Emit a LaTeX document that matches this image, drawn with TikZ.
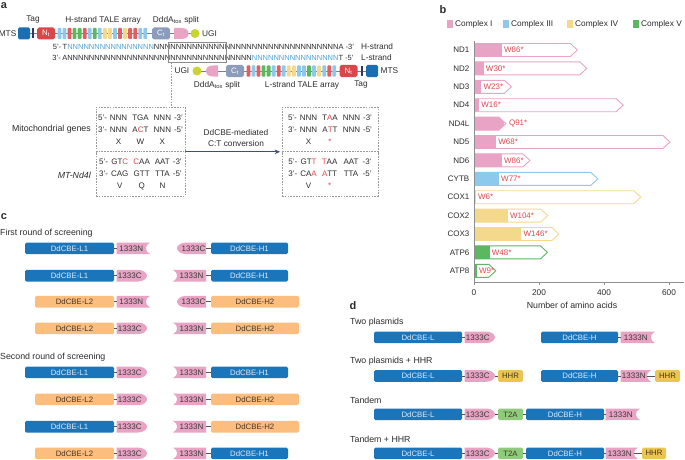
\documentclass[tikz,border=0pt]{standalone}
\usepackage{fontspec}
\setmainfont{Liberation Sans}
\usetikzlibrary{arrows.meta,fit}
\definecolor{txt}{HTML}{2B2B2B}
\definecolor{dblue}{HTML}{1B75BB}
\definecolor{mtsblue}{HTML}{1A6FB2}
\definecolor{orng}{HTML}{FBBE7F}
\definecolor{pinkP}{HTML}{E9A3C4}
\definecolor{lbl}{HTML}{8DC9EC}
\definecolor{rdd}{HTML}{E25E60}
\definecolor{grn}{HTML}{5CB85E}
\definecolor{ylw}{HTML}{F4D88B}
\definecolor{ntred}{HTML}{D9474A}
\definecolor{ctgray}{HTML}{8C9CBB}
\definecolor{tagd}{HTML}{2E3A5C}
\definecolor{ugi}{HTML}{C9D42F}
\definecolor{seqblue}{HTML}{4DA3DD}
\definecolor{seqred}{HTML}{E0464B}
\definecolor{hhr}{HTML}{EBC551}
\definecolor{tta}{HTML}{8FCB7D}
\definecolor{arr}{HTML}{3E5170}
\definecolor{dgray}{HTML}{9A9A9A}
\definecolor{boxg}{HTML}{8C8C8C}
\definecolor{axg}{HTML}{8E8E8E}
\definecolor{lblred}{HTML}{DA4A4E}
\definecolor{ptc}{HTML}{3A3A3A}
\definecolor{otxt}{HTML}{4A3520}
\definecolor{cgray}{HTML}{555555}
\definecolor{bbg}{HTML}{7F7F7F}
\colorlet{wtxt}{white!85!dblue}
\newcommand\fs[1]{\fontsize{#1}{#1}\selectfont}
\newcommand\rd[1]{\textcolor{seqred}{#1}}
\newcommand\ctab[3]{\begin{tabular}{@{}l@{\hspace{3pt}}c@{\hspace{5pt}}c@{\hspace{5pt}}c@{\hspace{3pt}}l@{}}#1\\#2\\#3\end{tabular}}
\tikzset{
  every node/.style={text=txt},
  lab/.style={inner sep=0pt, font=\fs{8.3}},
  lab2/.style={inner sep=0pt, font=\fs{8.8}},
  seq/.style={inner sep=0pt, font=\fs{7.5}},
  seqt/.style={inner sep=0pt, font=\fontsize{8}{12}\selectfont},
  plet/.style={inner sep=0pt, font=\fs{11}\bfseries},
  rbox/.style={rounded corners=1.5pt, inner sep=0pt, minimum height=11.6pt, font=\fs{7.8}},
  cbox/.style={rounded corners=1.8pt, inner sep=0pt, minimum height=12pt, font=\fs{7.8}, text=white},
  ptxt/.style={inner sep=0pt, font=\fs{8}, text=ptc},
  conn/.style={draw=cgray, line width=0.8pt},
  bb/.style={draw=bbg, line width=0.7pt},
  dbx/.style={draw=dgray, dash pattern=on 1.6pt off 1.2pt, line width=0.6pt, inner sep=0pt},
  dashg/.style={draw=dgray, dash pattern=on 1.6pt off 1.2pt, line width=0.6pt},
  axisl/.style={draw=axg, line width=0.8pt},
}
% pink pieces: name, xa, xb, y
\newcommand\pieceC[4]{%
  \fill[pinkP] (#2,#4-5.8) -- ({#3-9},#4-5.8) .. controls ({#3-3},#4-5.8) and (#3,#4-2.2) .. (#3,#4) .. controls (#3,#4+2.2) and ({#3-3},#4+5.8) .. ({#3-9},#4+5.8) -- (#2,#4+5.8) -- cycle;
  \coordinate (#1w) at (#2,#4); \coordinate (#1e) at (#3,#4);
  \node[ptxt] (#1) at ({(#2+#3)/2-2},#4) {1333C};}
\newcommand\pieceN[4]{%
  \fill[pinkP] (#2,#4-5.8) -- (#3,#4-5.8) .. controls ({#3-5.5},#4-3) and ({#3-5.5},#4+3) .. (#3,#4+5.8) -- (#2,#4+5.8) -- cycle;
  \coordinate (#1w) at (#2,#4); \coordinate (#1e) at ({#3-4.5},#4);
  \node[ptxt] (#1) at ({(#2+#3)/2-2},#4) {1333N};}
\newcommand\pieceCm[4]{%
  \fill[pinkP] (#3,#4-5.8) -- ({#2+9},#4-5.8) .. controls ({#2+3},#4-5.8) and (#2,#4-2.2) .. (#2,#4) .. controls (#2,#4+2.2) and ({#2+3},#4+5.8) .. ({#2+9},#4+5.8) -- (#3,#4+5.8) -- cycle;
  \coordinate (#1w) at (#2,#4); \coordinate (#1e) at (#3,#4);
  \node[ptxt] (#1) at ({(#2+#3)/2+2},#4) {1333C};}
\newcommand\pieceNm[4]{%
  \fill[pinkP] (#3,#4-5.8) -- (#2,#4-5.8) .. controls ({#2+5.5},#4-3) and ({#2+5.5},#4+3) .. (#2,#4+5.8) -- (#3,#4+5.8) -- cycle;
  \coordinate (#1w) at ({#2+4.5},#4); \coordinate (#1e) at (#3,#4);
  \node[ptxt] (#1) at ({(#2+#3)/2+2},#4) {1333N};}
\newcommand\Lbox[3]{%
  \ifnum#2=1 \node[rbox, fill=dblue, text=wtxt, minimum width=89pt] (#1) at (69.5,#3) {DdCBE-L1};
  \else \node[rbox, fill=orng, text=otxt, minimum width=79pt] (#1) at (74.5,#3) {DdCBE-L2};\fi}
\newcommand\Hbox[3]{%
  \ifnum#2=1 \node[rbox, fill=dblue, text=wtxt, minimum width=77pt] (#1) at (249.5,#3) {DdCBE-H1};
  \else \node[rbox, fill=orng, text=otxt, minimum width=88pt] (#1) at (255,#3) {DdCBE-H2};\fi}
\newcommand\crow[6]{%
  \Lbox{L#1}{#3}{#2}
  \if#4N \pieceN{pl#1}{116.5}{150}{#2}\else \pieceC{pl#1}{116.5}{147}{#2}\fi
  \draw[conn] (L#1.east) -- (pl#1w);
  \if#5N \pieceNm{pr#1}{173}{206}{#2}\else \pieceCm{pr#1}{177}{206}{#2}\fi
  \Hbox{H#1}{#6}{#2}
  \draw[conn] (pr#1e) -- (H#1.west);}
\begin{document}
\begin{tikzpicture}[x=1pt,y=-1pt]
\useasboundingbox (0,0) rectangle (685,460);
% ================= panel a =================
\node[plet] (la) at (4,6) {a};
\node[lab] (tag1l) at (33,20) {Tag};
\node[lab] (tale1l) at (103,20) {H-strand TALE array};
\node[lab] (dd1l) at (176,20) {DddA\textsubscript{tox} split};
% upper construct
\coordinate (bb1a) at (24,33.5); \coordinate (bb1b) at (195,33.5);
\draw[bb] (bb1a) -- (bb1b);
\node[lab, anchor=east] (mts1t) at (16.5,33.5) {MTS};
\node[rbox, fill=mtsblue, minimum width=12pt, minimum height=12pt] (mts1) at (24,33.5) {};
\node[fill=tagd, minimum width=2pt, minimum height=10pt, inner sep=0pt] (tag1) at (33.3,33.5) {};
\node[cbox, fill=ntred, minimum width=18pt] (nt1) at (46,33.5) {N\textsubscript{t}};
\foreach \c [count=\i from 0] in {lbl,lbl,rdd,grn,grn,rdd,lbl,grn,lbl,ylw,ylw,lbl,rdd,ylw,rdd,rdd,lbl,lbl}
  {\fill[\c, rounded corners=0.8pt] ({57.5+5.05*\i},28) rectangle ++(3.8,11);}
\node[cbox, fill=ctgray, minimum width=18pt] (ct1) at (161,33.5) {C\textsubscript{t}};
\fill[pinkP] (174,28) -- (181,28) .. controls (186,28) and (188.5,30) .. (188.5,33.5) .. controls (188.5,37) and (186,39) .. (181,39) -- (174,39) -- cycle;
\node[circle, fill=ugi, minimum size=9pt, inner sep=0pt] (ugi1) at (195,33.5) {};
\node[lab, anchor=west] (ugi1t) at (202,33.5) {UGI};
% sequences
\node[seq, anchor=base east] (s1a) at (170.4,49.5) {5'-\kern1.5pt T\textcolor{seqblue}{NNNNNNNNNNNNNNNN}NNN};
\node[seq, anchor=base] (s1b) at (197.5,49.5) {NNNNNNNNNN};
\node[seq, anchor=base west] (s1c) at (224.6,49.5) {NNNNNNNNNNNNNNNNNNNNNA -3'};
\node[lab, anchor=base west] (hs) at (361,49.5) {H-strand};
\node[seq, anchor=base east] (s2a) at (170.4,60) {3'-\kern1.5pt ANNNNNNNNNNNNNNNNNNN};
\node[seq, anchor=base] (s2b) at (197.5,60) {NNNNNNNNNN};
\node[seq, anchor=base west] (s2c) at (224.6,60) {NNNNN\textcolor{seqblue}{NNNNNNNNNNNNNNNN}T -5'};
\node[lab, anchor=base west] (ls) at (361,60) {L-strand};
\node[draw=boxg, line width=0.6pt, inner sep=1.8pt, fit=(s1b)(s2b)] (bxs) {};
% lower construct
\coordinate (bb2a) at (197,71); \coordinate (bb2b) at (372,71);
\draw[bb] (bb2a) -- (bb2b);
\node[lab, anchor=east] (ugi2t) at (189.5,71) {UGI};
\node[circle, fill=ugi, minimum size=9pt, inner sep=0pt] (ugi2) at (197,71) {};
\fill[pinkP] (218,65.5) -- (213.5,65.5) .. controls (208.5,65.5) and (206,67.5) .. (206,71) .. controls (206,74.5) and (208.5,76.5) .. (213.5,76.5) -- (218,76.5) -- cycle;
\node[cbox, fill=ctgray, minimum width=18pt] (ct2) at (235,71) {C\textsubscript{t}};
\foreach \c [count=\i from 0] in {rdd,lbl,rdd,grn,grn,lbl,rdd,lbl,ylw,ylw,lbl,lbl,grn,lbl,ylw,lbl,rdd,lbl}
  {\fill[\c, rounded corners=0.8pt] ({246.5+5.05*\i},65.5) rectangle ++(3.8,11);}
\node[cbox, fill=ntred, minimum width=18pt] (nt2) at (348.5,71) {N\textsubscript{t}};
\node[fill=tagd, minimum width=2pt, minimum height=10pt, inner sep=0pt] (tag2) at (362,71) {};
\node[rbox, fill=mtsblue, minimum width=12pt, minimum height=12pt] (mts2) at (372,71) {};
\node[lab, anchor=west] (mts2t) at (380.5,71) {MTS};
\node[lab] (dd2l) at (217,85) {DddA\textsubscript{tox} split};
\node[lab] (tale2l) at (302,85) {L-strand TALE array};
\node[lab] (tag2l) at (361,85) {Tag};
% dashed boxes
\node[dbx, minimum width=89pt, minimum height=44.5pt] (bL1) at (140.5,129.25) {};
\node[dbx, minimum width=89pt, minimum height=44.5pt] (bL2) at (140.5,173.75) {};
\node[dbx, minimum width=96pt, minimum height=44.5pt] (bR1) at (330,129.25) {};
\node[dbx, minimum width=96pt, minimum height=44.5pt] (bR2) at (330,173.75) {};
\draw[dashg] ([xshift=3pt]bxs.south west) -- ([xshift=3pt]bxs.south west |- bL1.north);
\node[seqt] (tL1) at (140.5,129.8) {\ctab{5'- & NNN & TGA & NNN & -3'}{3'- & NNN & A\rd{C}T & NNN & -5'}{ & X & W & X & }};
\node[seqt] (tL2) at (140.5,174.3) {\ctab{5'- & GT\rd{C} & \rd{C}AA & AAT & -3'}{3'- & CAG & GTT & TTA & -5'}{ & V & Q & N & }};
\node[seqt] (tR1) at (330,129.8) {\ctab{5'- & NNN & T\rd{A}A & NNN & -3'}{3'- & NNN & A\rd{T}T & NNN & -5'}{ & X & \rd{*} & \phantom{NNN} & }};
\node[seqt] (tR2) at (330,174.3) {\ctab{5'- & GT\rd{T} & \rd{T}AA & AAT & -3'}{3'- & CA\rd{A} & \rd{A}TT & TTA & -5'}{ & V & \rd{*} & \phantom{NNN} & }};
\node[lab2, anchor=east] (mgl) at (91,129) {Mitochondrial genes};
\node[lab2, anchor=east, font=\fs{8.8}\itshape] (ndl) at (91,175) {MT-Nd4l};
\draw[-{Stealth[length=5.5pt,width=4.5pt]}, draw=arr, fill=arr, line width=1pt, shorten >=1.5pt] (bL1.south east) -- (bR1.south west);
\node[lab] (ar1) at (236,133) {DdCBE-mediated};
\node[lab] (ar2) at (236,143.5) {C:T conversion};
% ================= panel b =================
\node[plet] (lbb) at (443,10) {b};
\foreach \cl/\tx/\xx [count=\i] in {pinkP/Complex I/447, lbl/Complex III/503, ylw/Complex IV/567, grn/Complex V/633}
  {\node[fill=\cl, minimum width=6pt, minimum height=8pt, inner sep=0pt] (lg\i) at (\xx+3,24) {};
   \node[lab, anchor=west] (lgt\i) at (\xx+8,24) {\tx};}
\foreach \vnm/\vlen/\vpos/\vcol/\vlab/\vmd [count=\i from 0] in {ND1/318/86/pinkP/W86*/0, ND2/347/30/pinkP/W30*/0, ND3/115/23/pinkP/W23*/0, ND4/459/16/pinkP/W16*/0, ND4L/98/91/pinkP/Q91*/1, ND5/603/68/pinkP/W68*/0, ND6/172/86/pinkP/W86*/0, CYTB/381/77/lbl/W77*/0, COX1/513/6/ylw/W6*/0, COX2/227/104/ylw/W104*/0, COX3/261/146/ylw/W146*/0, ATP6/226/48/grn/W48*/0, ATP8/67/9/grn/W9*/0}
{
  \pgfmathsetmacro\yy{50+18.4*\i}
  \pgfmathsetmacro\xe{474+0.325*\vlen}
  \pgfmathsetmacro\xf{474+0.325*\vpos}
  \pgfmathsetmacro\xl{\vmd==1 ? \xe+3 : \xf+2}
  \begin{scope}
    \clip (474.4,\yy-6.5) -- (\xe-7,\yy-6.5) -- (\xe,\yy) -- (\xe-7,\yy+6.5) -- (474.4,\yy+6.5) -- cycle;
    \fill[\vcol] (474,\yy-7) rectangle (\xf,\yy+7);
  \end{scope}
  \draw[\vcol, line width=0.9pt] (474.4,\yy-6.5) -- (\xe-7,\yy-6.5) -- (\xe,\yy) -- (\xe-7,\yy+6.5) -- (474.4,\yy+6.5);
  \node[lab, anchor=east, font=\fs{8}] (nd\i) at (469.5,\yy) {\vnm};
  \node[lab, anchor=west, font=\fs{8}, text=lblred] (bl\i) at (\xl,\yy) {\vlab};
}
\draw[axisl] (474,41) -- (474,282) -- (684,282);
\foreach \v [count=\i] in {0,200,400,600}
  {\pgfmathsetmacro\tx{474+0.325*\v}
   \draw[axisl] (\tx,282) -- (\tx,285);
   \node[lab] (tk\i) at (\tx,292.5) {\v};}
\node[lab2] (xlab) at (572,305) {Number of amino acids};
% ================= panel c =================
\node[plet] (lc) at (4,217) {c};
\node[lab2, anchor=west] (r1l) at (0,233) {First round of screening};
\crow{1}{248.3}{1}{N}{C}{1}
\crow{2}{275.7}{1}{C}{N}{1}
\crow{3}{301.7}{2}{N}{C}{2}
\crow{4}{328.3}{2}{C}{N}{2}
\node[lab2, anchor=west] (r2l) at (0,357) {Second round of screening};
\crow{5}{372.3}{1}{C}{N}{1}
\crow{6}{399.3}{2}{C}{N}{2}
\crow{7}{426.7}{1}{C}{N}{2}
\crow{8}{453.3}{2}{C}{N}{1}
% ================= panel d =================
\node[plet] (ld) at (353,306) {d};
\node[lab2, anchor=west] (d1l) at (350,322) {Two plasmids};
\node[lab2, anchor=west] (d2l) at (350,361) {Two plasmids + HHR};
\node[lab2, anchor=west] (d3l) at (350,400) {Tandem};
\node[lab2, anchor=west] (d4l) at (350,439) {Tandem + HHR};
% row 1
\node[rbox, fill=dblue, text=wtxt, minimum width=88pt] (dL1) at (418,337.3) {DdCBE-L};
\pieceC{dc1}{464.5}{495}{337.3}
\draw[conn] (dL1.east) -- (dc1w);
\node[rbox, fill=dblue, text=wtxt, minimum width=77pt] (dH1) at (579.5,337.3) {DdCBE-H};
\pieceN{dn1}{620.5}{655}{337.3}
\draw[conn] (dH1.east) -- (dn1w);
% row 2
\node[rbox, fill=dblue, text=wtxt, minimum width=88pt] (dL2) at (418,376) {DdCBE-L};
\pieceC{dc2}{464.5}{495}{376}
\draw[conn] (dL2.east) -- (dc2w);
\node[rbox, fill=hhr, text=otxt, minimum width=25pt] (dha2) at (510.5,376) {HHR};
\draw[conn] (dc2e) -- (dha2.west);
\node[rbox, fill=dblue, text=wtxt, minimum width=77pt] (dH2) at (579.5,376) {DdCBE-H};
\pieceN{dn2}{620.5}{651}{376}
\draw[conn] (dH2.east) -- (dn2w);
\node[rbox, fill=hhr, text=otxt, minimum width=25pt] (dhb2) at (667.5,376) {HHR};
\draw[conn] (dn2e) -- (dhb2.west);
% row 3
\node[rbox, fill=dblue, text=wtxt, minimum width=88pt] (dL3) at (418,414.3) {DdCBE-L};
\pieceC{dc3}{464.5}{495}{414.3}
\draw[conn] (dL3.east) -- (dc3w);
\node[rbox, fill=tta, text=otxt, minimum width=25pt] (dt3) at (510.5,414.3) {T2A};
\draw[conn] (dc3e) -- (dt3.west);
\node[rbox, fill=dblue, text=wtxt, minimum width=78pt] (dH3) at (565,414.3) {DdCBE-H};
\draw[conn] (dt3.east) -- (dH3.west);
\pieceN{dn3}{605.5}{640}{414.3}
\draw[conn] (dH3.east) -- (dn3w);
% row 4
\node[rbox, fill=dblue, text=wtxt, minimum width=88pt] (dL4) at (418,453.3) {DdCBE-L};
\pieceC{dc4}{464.5}{495}{453.3}
\draw[conn] (dL4.east) -- (dc4w);
\node[rbox, fill=tta, text=otxt, minimum width=25pt] (dt4) at (510.5,453.3) {T2A};
\draw[conn] (dc4e) -- (dt4.west);
\node[rbox, fill=dblue, text=wtxt, minimum width=78pt] (dH4) at (565,453.3) {DdCBE-H};
\draw[conn] (dt4.east) -- (dH4.west);
\pieceN{dn4}{605.5}{638}{453.3}
\draw[conn] (dH4.east) -- (dn4w);
\node[rbox, fill=hhr, text=otxt, minimum width=24pt] (dh4) at (654,453.3) {HHR};
\draw[conn] (dn4e) -- (dh4.west);
\end{tikzpicture}
\end{document}
